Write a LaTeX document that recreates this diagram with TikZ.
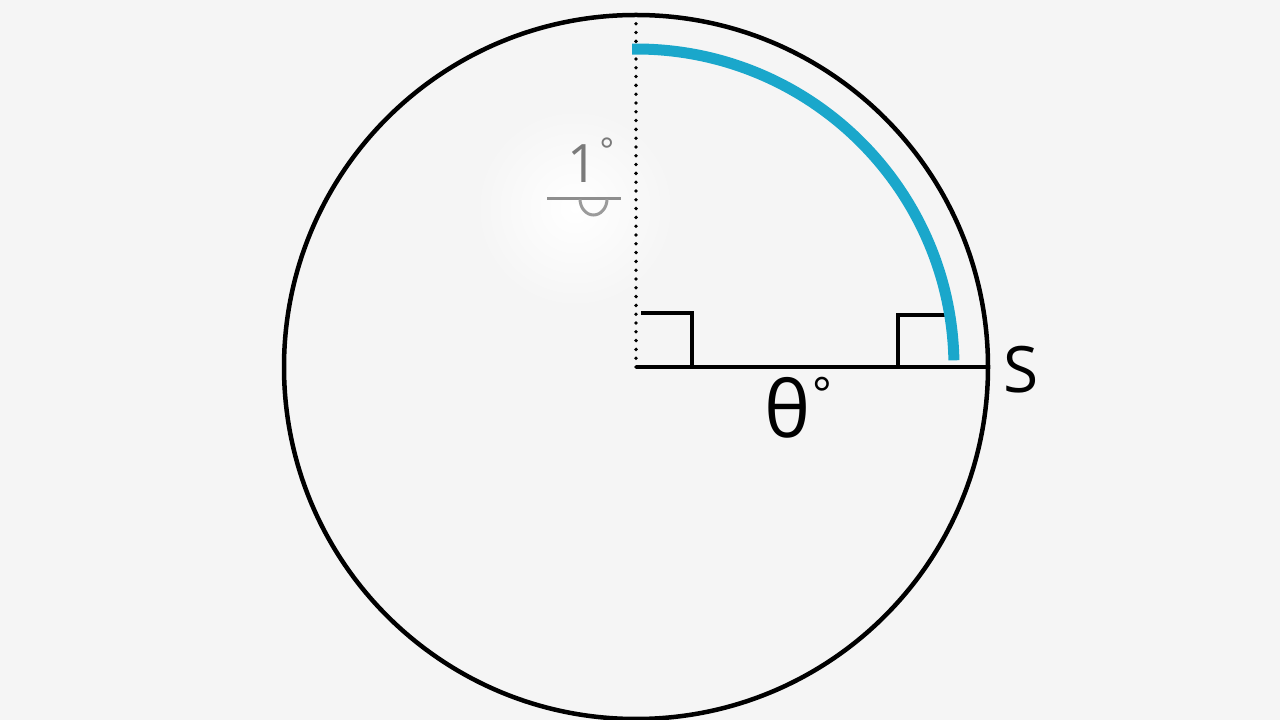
\documentclass[tikz,border=0pt]{standalone}
\usepackage{fontspec}
\setmainfont{Open Sans}
\definecolor{bg}{HTML}{F5F5F5}
\definecolor{arcblue}{HTML}{1AA7CB}
\definecolor{fracgray}{HTML}{7A7A7A}
\tikzset{
  thickline/.style={line width=4.5pt, black},
  marker/.style={line width=4pt, black},
  dotline/.style={line width=3.8pt, line cap=round, dash pattern=on 0pt off 8.8pt},
  bluearc/.style={line width=11pt, arcblue},
  lbl/.style={inner sep=0pt, font=\fontsize{60}{60}\selectfont},
}
\newcommand{\smalldeg}[2]{\raisebox{#2}{\fontsize{#1}{#1}\selectfont °}}
\begin{document}
\begin{tikzpicture}[x=1pt,y=1pt]
\fill[bg] (0,0) rectangle (1280,720);
\useasboundingbox (0,0) rectangle (1280,720);
% glow behind fraction
\shade[inner color=white, outer color=bg] (575,512) circle (100);
\coordinate (O) at (636,353);
\coordinate (T) at (636,702);
\coordinate (E) at (988,353);
% circle
\draw[thickline] (O) circle (352);
% dotted radius
\draw[dotline] (O) -- (T);
% horizontal radius
\draw[thickline] (O) -- (E);
% right angle markers
\coordinate (m1a) at (641,407);
\coordinate (m1b) at (692,407);
\coordinate (m1c) at (692,353);
\draw[marker] (m1a) -- (m1b) -- (m1c);
\coordinate (m2a) at (898,353);
\coordinate (m2b) at (898,405);
\coordinate (m2c) at (946,405);
\draw[marker] (m2a) -- (m2b) -- (m2c);
% blue arc
\draw[bluearc] ([shift={(90.7:318)}]O) arc[start angle=90.7, end angle=1.2, radius=318];
% labels
\node[lbl, font=\fontsize{64}{64}\selectfont, anchor=base west] (S) at (1003,327) {S};
\node[lbl, font=\fontsize{78}{78}\selectfont, anchor=base west] (th) at (764,282) {θ\kern2pt\smalldeg{46}{27pt}};
% fraction
\node[lbl, text=fracgray, font=\fontsize{53}{53}\selectfont, anchor=base west] (one) at (567,537) {1\kern2pt\smalldeg{34}{20pt}};
\coordinate (b1) at (547,521);
\coordinate (b2) at (621,521);
\draw[line width=3pt, fracgray!85] (b1) -- (b2);
\draw[line width=3pt, fracgray!75] (580,521) arc[start angle=180, end angle=360, x radius=13.5, y radius=16];
\end{tikzpicture}
\end{document}
